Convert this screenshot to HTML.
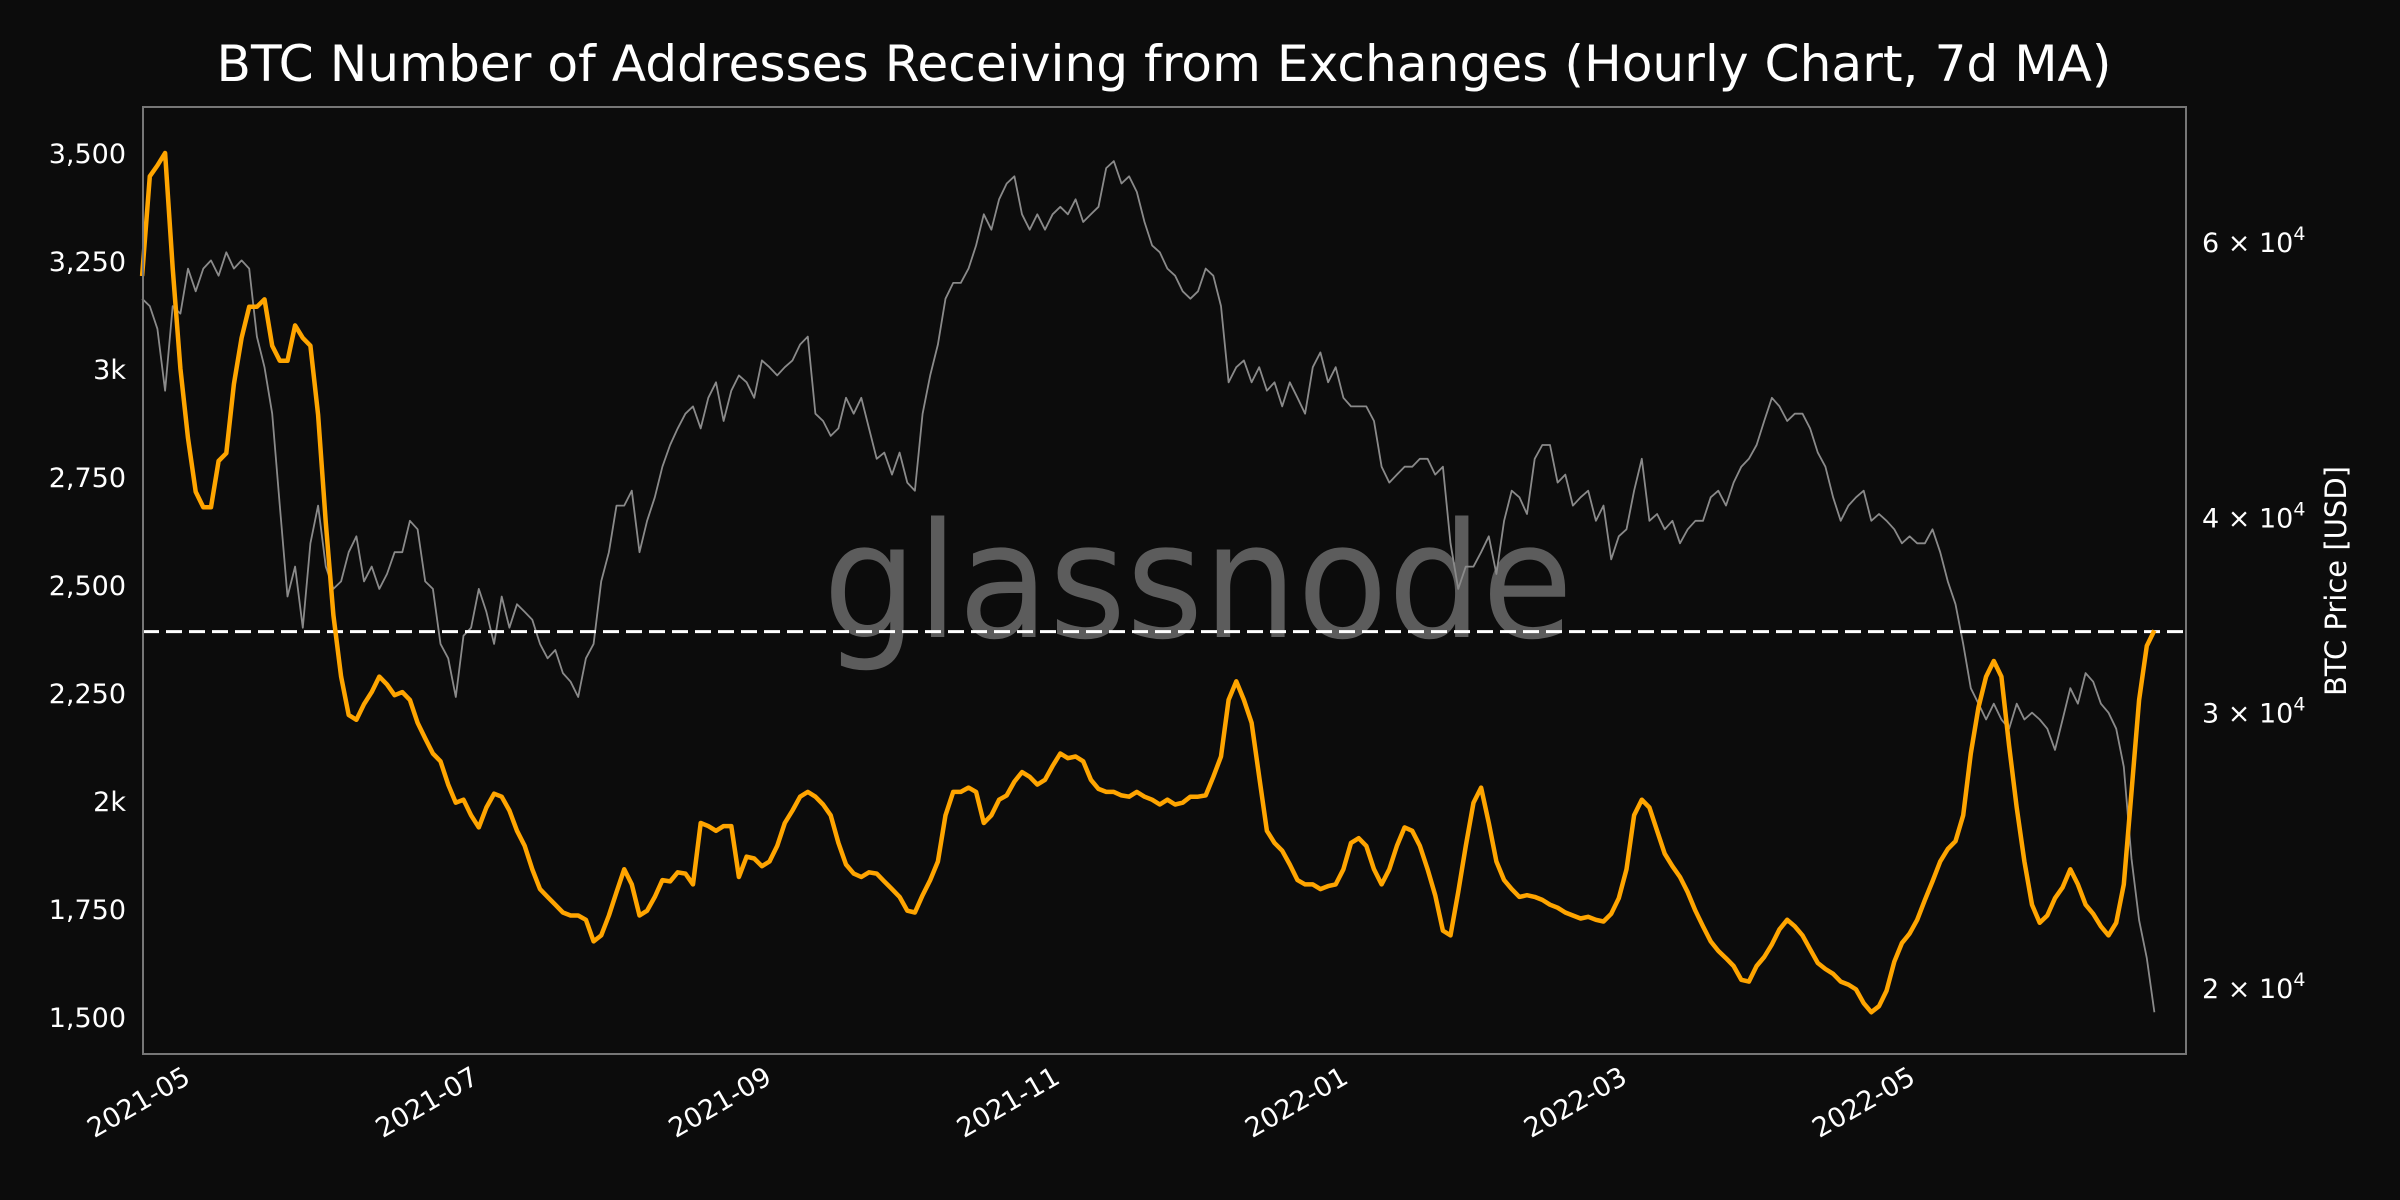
<!DOCTYPE html>
<html><head><meta charset="utf-8"><style>
html,body{margin:0;padding:0;background:#0c0c0c;}
svg{display:block;font-family:"DejaVu Sans","Liberation Sans",sans-serif;}
</style></head><body>
<svg id="chart" width="2400" height="1200" viewBox="0 0 2400 1200">
<rect x="0" y="0" width="2400" height="1200" fill="#0c0c0c"/>
<text x="1164" y="81" font-size="50" fill="#fff" text-anchor="middle" textLength="1895" lengthAdjust="spacingAndGlyphs">BTC Number of Addresses Receiving from Exchanges (Hourly Chart, 7d MA)</text>
<text x="1198" y="637" font-size="160" fill="#5c5c5c" text-anchor="middle" textLength="750" lengthAdjust="spacingAndGlyphs" font-family="DejaVu Sans, sans-serif">glassnode</text>
<g id="plot"></g>
<rect x="143" y="107" width="2043" height="947" fill="none" stroke="#777" stroke-width="2"/>
<text transform="translate(2346,581) rotate(-90)" font-size="29" fill="#fff" text-anchor="middle">BTC Price [USD]</text>
</svg>
<script>
const startDate = "2021-04-21T07:00:00Z";
const stepDays = 1.619;
const addresses = [3215,3446,3471,3500,3233,3001,2840,2716,2680,2680,2787,2805,2965,3072,3144,3144,3161,3054,3019,3019,3101,3072,3054,2894,2644,2430,2288,2199,2188,2224,2252,2288,2270,2245,2252,2234,2181,2145,2110,2092,2038,1996,2003,1967,1939,1985,2017,2010,1978,1931,1896,1842,1796,1778,1760,1742,1735,1735,1725,1675,1689,1735,1789,1842,1807,1735,1746,1778,1817,1814,1835,1832,1807,1949,1942,1931,1942,1942,1824,1871,1867,1849,1860,1896,1949,1978,2010,2021,2010,1992,1967,1903,1853,1832,1824,1835,1832,1814,1796,1778,1746,1742,1782,1817,1860,1967,2021,2021,2031,2021,1949,1967,2003,2013,2045,2067,2056,2038,2049,2081,2110,2099,2103,2092,2049,2028,2021,2021,2013,2010,2021,2010,2003,1992,2003,1992,1996,2010,2010,2013,2056,2103,2234,2277,2234,2181,2056,1931,1903,1885,1853,1817,1807,1807,1796,1803,1807,1842,1903,1914,1896,1842,1807,1842,1896,1939,1931,1896,1842,1782,1700,1689,1789,1896,1996,2031,1949,1860,1817,1796,1778,1782,1778,1771,1760,1753,1742,1735,1728,1732,1725,1721,1739,1775,1842,1967,2003,1985,1931,1878,1849,1824,1789,1746,1710,1675,1653,1636,1618,1586,1582,1618,1639,1668,1703,1725,1710,1689,1657,1625,1611,1600,1582,1575,1564,1532,1511,1525,1561,1628,1671,1693,1725,1771,1814,1860,1889,1907,1967,2110,2217,2288,2324,2288,2128,1985,1860,1760,1718,1735,1775,1800,1842,1807,1760,1739,1710,1689,1718,1807,2021,2234,2359,2395];
const priceK = [55.2,54.6,52.8,48.2,54.6,54.0,57.7,55.8,57.7,58.4,57.1,59.1,57.7,58.4,57.7,52.2,49.9,46.6,40.7,35.6,37.2,34.0,38.5,40.7,37.2,36.0,36.4,38.0,38.9,36.4,37.2,36.0,36.8,38.0,38.0,39.8,39.3,36.4,36.0,33.2,32.5,30.7,33.6,34.0,36.0,34.8,33.2,35.6,34.0,35.2,34.8,34.4,33.2,32.5,32.9,31.8,31.4,30.7,32.5,33.2,36.4,38.0,40.7,40.7,41.6,38.0,39.8,41.2,43.1,44.5,45.6,46.6,47.1,45.6,47.7,48.8,46.1,48.2,49.3,48.8,47.7,50.4,49.9,49.3,49.9,50.4,51.6,52.2,46.6,46.1,45.1,45.6,47.7,46.6,47.7,45.6,43.6,44.0,42.6,44.0,42.1,41.6,46.6,49.3,51.6,55.2,56.5,56.5,57.7,59.7,62.5,61.1,63.9,65.4,66.1,62.5,61.1,62.5,61.1,62.5,63.2,62.5,63.9,61.8,62.5,63.2,66.9,67.6,65.4,66.1,64.6,61.8,59.7,59.1,57.7,57.1,55.8,55.2,55.8,57.7,57.1,54.6,48.8,49.9,50.4,48.8,49.9,48.2,48.8,47.1,48.8,47.7,46.6,49.9,51.0,48.8,49.9,47.7,47.1,47.1,47.1,46.1,43.1,42.1,42.6,43.1,43.1,43.6,43.6,42.6,43.1,38.5,36.0,37.2,37.2,38.0,38.9,36.8,39.8,41.6,41.2,40.2,43.6,44.5,44.5,42.1,42.6,40.7,41.2,41.6,39.8,40.7,37.6,38.9,39.3,41.6,43.6,39.8,40.2,39.3,39.8,38.5,39.3,39.8,39.8,41.2,41.6,40.7,42.1,43.1,43.6,44.5,46.1,47.7,47.1,46.1,46.6,46.6,45.6,44.0,43.1,41.2,39.8,40.7,41.2,41.6,39.8,40.2,39.8,39.3,38.5,38.9,38.5,38.5,39.3,38.0,36.4,35.2,33.2,31.1,30.4,29.7,30.4,29.7,29.3,30.4,29.7,30.0,29.7,29.3,28.4,29.7,31.1,30.4,31.8,31.4,30.4,30.0,29.3,27.7,24.2,22.1,20.9,19.3];
const leftTickValues = [1500,1750,2000,2250,2500,2750,3000,3250,3500];
const leftTickLabels = ["1,500","1,750","2k","2,250","2,500","2,750","3k","3,250","3,500"];
const rightTickValues = [20000,30000,40000,60000];
const rightTickMantissa = ["2","3","4","6"];
const xTickDates = ["2021-05-01","2021-07-01","2021-09-01","2021-11-01","2022-01-01","2022-03-01","2022-05-01"];
const xTickLabels = ["2021-05","2021-07","2021-09","2021-11","2022-01","2022-03","2022-05"];
const referenceLevel = 2392;

const NS = "http://www.w3.org/2000/svg";
const svg = document.getElementById('chart');
const plot = document.getElementById('plot');
const ref0 = Date.parse("2021-05-01T00:00:00Z");
function xScale(ms){ return 188 + (ms - ref0)/86400000*4.726; }
function yLeft(v){ return 153 + (3500 - v)*0.432; }
function yRight(p){ return 988 - Math.log(p/20000)*679; }
const t0 = Date.parse(startDate);
function tAt(i){ return t0 + i*stepDays*86400000; }
function mk(tag, attrs){ const e=document.createElementNS(NS,tag); for(const k in attrs) e.setAttribute(k,attrs[k]); return e; }

let d = priceK.map((p,i)=>(i?'L':'M')+xScale(tAt(i)).toFixed(1)+','+yRight(p*1000).toFixed(1)).join('');
const pl = mk('path',{d:d,fill:'none',stroke:'#8a8a8a','stroke-width':'1.8','stroke-linejoin':'round'});


plot.appendChild(pl);

const rl = mk('line',{x1:143,x2:2186,y1:yLeft(referenceLevel),y2:yLeft(referenceLevel),stroke:'#fff','stroke-width':'3','stroke-dasharray':'16,7'});


plot.appendChild(rl);

d = addresses.map((v,i)=>(i?'L':'M')+xScale(tAt(i)).toFixed(1)+','+yLeft(v).toFixed(1)).join('');
const al = mk('path',{d:d,fill:'none',stroke:'#FFA500','stroke-width':'4.5','stroke-linejoin':'round'});


plot.appendChild(al);

leftTickValues.forEach((v,i)=>{
  const t = mk('text',{x:126,y:yLeft(v)+10,'font-size':'27',fill:'#fff','text-anchor':'end'});
  t.textContent = leftTickLabels[i];
  
  
  svg.appendChild(t);
});
rightTickValues.forEach((v,i)=>{
  const t = mk('text',{x:2202,y:yRight(v)+10,'font-size':'27',fill:'#fff'});
  t.textContent = rightTickMantissa[i] + ' \u00d7 10';
  const s = mk('tspan',{'font-size':'19',dy:'-12'});
  s.textContent = '4';
  t.appendChild(s);
  
  
  svg.appendChild(t);
});
xTickDates.forEach((dt,i)=>{
  const x = xScale(Date.parse(dt+"T00:00:00Z"));
  const t = mk('text',{transform:'translate('+(x+4)+',1082) rotate(-30)','font-size':'27',fill:'#fff','text-anchor':'end'});
  t.textContent = xTickLabels[i];
  
  
  svg.appendChild(t);
});
</script>
</body></html>
